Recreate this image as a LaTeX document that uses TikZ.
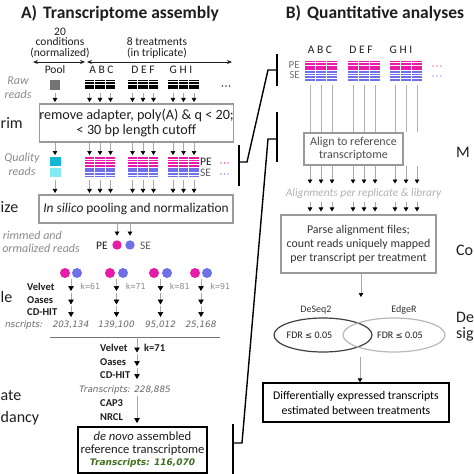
\documentclass[tikz,border=0pt]{standalone}
\usepackage{fontspec}
\setmainfont{Carlito}
\newfontfamily\monof{DejaVu Sans Mono}
\newfontfamily\djv{DejaVu Sans}
\usetikzlibrary{arrows.meta,shapes.geometric}
\definecolor{mag}{HTML}{E81BA8}
\definecolor{blu}{HTML}{6E70E8}
\definecolor{cyd}{HTML}{14B6D6}
\definecolor{cyl}{HTML}{84EAF2}
\definecolor{txt}{HTML}{1E1E1E}
\definecolor{gtx}{HTML}{8A8A8A}
\definecolor{ltx}{HTML}{B0B0B0}
\definecolor{ntx}{HTML}{666666}
\definecolor{grn}{HTML}{3F6F1F}
\definecolor{bord}{HTML}{9A9A9A}
\definecolor{stem}{HTML}{A8A8A8}
\begin{document}
\begin{tikzpicture}[x=1pt,y=-1pt,
  every node/.style={inner sep=0pt,text=txt},
  ttl/.style={font=\bfseries\fontsize{17.5}{20}\selectfont},
  side/.style={font=\fontsize{16}{18}\selectfont,anchor=west},
  hd/.style={font=\fontsize{11.5}{10.5}\selectfont},
  bx/.style={font=\fontsize{11.5}{15}\selectfont,align=center},
  gbox/.style={draw=bord,line width=1.1pt},
  kbox/.style={draw=black,line width=1.8pt},
  itl/.style={font=\itshape\fontsize{12}{14}\selectfont,text=gtx,align=center},
  tool/.style={font=\bfseries\fontsize{10.5}{11}\selectfont,anchor=west},
  kl/.style={font=\monof\fontsize{8.2}{10}\selectfont,text=gtx,anchor=west},
  num/.style={font=\djv\itshape\fontsize{8.8}{10}\selectfont,text=ntx},
  dn/.style={draw=stem,line width=0.7pt,-{Triangle[length=4pt,width=4.6pt,color=black]}},
  dnb/.style={draw=stem,line width=0.7pt,-{Triangle[length=5pt,width=5.5pt,color=black]}},
  harr/.style={draw=txt,line width=0.8pt,{Stealth[length=5pt,width=4pt]}-{Stealth[length=5pt,width=4pt]}},
  brk/.style={draw=black,line width=1.4pt},
  pics/stk/.style={code={\foreach \k in {0,1,2,3}{\fill[#1] (-4.6,\k*2.6) rectangle (4.6,\k*2.6+1.8);}}}
]
\useasboundingbox (0,0) rectangle (474,474);
\clip (0,0) rectangle (474,474);

% ---------- titles ----------
\node[ttl] (tA) at (120,13) {A)\hspace{6pt}Transcriptome assembly};
\node[ttl] (tB) at (375,13) {B)\hspace{6pt}Quantitative analyses};

% ---------- side labels ----------
\node[side] (sTrim) at (0.5,123) {rim};
\node[side] (sNorm) at (0.5,207) {ize};
\node[side] (sAss) at (0.5,297) {le};
\node[side] (sEl1) at (0.5,395) {ate};
\node[side] (sEl2) at (0.5,418) {dancy};
\node[side] (sMap) at (456,152) {M};
\node[side] (sCnt) at (456,250) {Co};
\node[side] (sDe1) at (456,317) {De};
\node[side] (sDe2) at (456,334.5) {sig};

% ---------- header of A ----------
\node[hd,align=center] (cond) at (60,43) {20\\conditions\\(normalized)};
\node[hd,align=center] (trt) at (157,48) {8 treatments\\(in triplicate)};
\coordinate (h1) at (33,62); \coordinate (h2) at (85,62);
\coordinate (h3) at (87,62); \coordinate (h4) at (232,62);
\draw[harr] (h1) -- (h2);
\draw[harr] (h3) -- (h4);
\node[hd] (pool) at (55,70) {Pool};
\node[hd] (gABC) at (101.5,70) {A B C};
\node[hd] (gDEF) at (143,70) {D E F};
\node[hd] (gGHI) at (181,70) {G H I};

\node[itl] (raw) at (18,87.5) {Raw\\reads};
\node[itl] (qual) at (22,164) {Quality\\reads};

% raw read stacks
\fill[black!55] (50,80) rectangle (60,90);
\foreach \x in {89.5,100,110.5,132.5,143,153.5,173,183.5,194}{
  \pic at (\x,79.5) {stk=black};
  \pic at (\x,157) {stk=mag};
  \pic at (\x,167.8) {stk=blu};
}
\foreach \d in {222.5,226,229.5}{
  \fill[black!75] (\d,86) circle (0.9);
  \fill[mag!70] (\d-1.5,163) circle (0.8);
  \fill[blu!70] (\d-1.5,174) circle (0.8);
}
\fill[cyd] (50,157) rectangle (61,166);
\fill[cyl] (50,168) rectangle (61,177);
\node[font=\fontsize{11.5}{13}\selectfont,anchor=west] (peA) at (200,162) {PE};
\node[font=\fontsize{11.5}{13}\selectfont,anchor=west,text=black!65] (seA) at (200,173) {SE};

% boxes of A
\node[gbox,bx,minimum width=193pt,minimum height=38pt,font=\fontsize{14.2}{15}\selectfont] (b1) at (136.5,123)
  {remove adapter, poly(A) \& q < 20;\\< 30 bp length cutoff};
\node[gbox,bx,minimum width=194pt,minimum height=28pt,font=\fontsize{13.4}{15}\selectfont] (b2) at (136,209)
  {\textit{In silico} pooling and normalization};

\foreach \x [count=\i] in {55,89.5,100,110.5,132.5,143,153.5,173,183.5,194}{
  \coordinate (ra\i) at (\x,92.5);
  \draw[dn,shorten >=1.5pt] (ra\i) -- (ra\i |- b1.north);
  \coordinate (qa\i) at (\x,155);
  \draw[dn] (qa\i |- b1.south) -- (qa\i);
  \coordinate (qb\i) at (\x,179.5);
  \draw[dn,shorten >=1.5pt] (qb\i) -- (qb\i |- b2.north);
}

% pooled reads
\node[circle,fill=mag,minimum size=9.4pt] (cpe) at (117,245) {};
\node[circle,fill=blu,minimum size=9.4pt] (cse) at (130,245) {};
\draw[dn] (cpe |- b2.south) -- ++(0,12);
\draw[dn] (cse |- b2.south) -- ++(0,12);
\node[font=\fontsize{11.5}{13}\selectfont,anchor=east] (peB) at (108,245.5) {PE};
\node[font=\fontsize{11.5}{13}\selectfont,anchor=west,text=black!65] (seB) at (140,245.5) {SE};
\node[itl,anchor=east] (tn1) at (62,235) {rimmed and};
\node[itl,anchor=east] (tn2) at (80,248) {ormalized reads};

% four assemblies
\foreach \a/\b/\m/\k/\n in {65/77/71/61/203{,}134,110/123/116.5/71/139{,}100,154/167/160.5/81/95{,}012,195/207/201/91/25{,}168}{
  \fill[mag] (\a,273) circle (5);
  \fill[blu] (\b,273) circle (5);
  \coordinate (m1) at (\m,279);
  \draw[dnb] (m1) -- ++(0,12);
  \draw[dnb] (\m,293) -- (\m,304.5);
  \draw[dnb] (\m,306) -- (\m,317);
  \node[kl] at (\m+9,286) {k=\k};
  \node[num] at (\m,325) {\n};
}
\node[tool] (v1) at (27,287) {Velvet};
\node[tool] (o1) at (27,300) {Oases};
\node[tool] (c1) at (27,312) {CD-HIT};
\node[num,anchor=east] (tr1) at (43,325) {nscripts:};

\coordinate (hl1) at (50,337); \coordinate (hl2) at (220,337);
\draw[draw=black!55,line width=0.9pt] (hl1) -- (hl2);

% merged assembly
\coordinate (mc) at (137,337);
\draw[dnb] (mc) -- ++(0,15.5);
\draw[dnb] (137,354) -- (137,366);
\draw[dnb] (137,368) -- (137,379);
\node[tool] (v2) at (100,348) {Velvet};
\node[tool] (k2) at (144,348) {k=71};
\node[tool] (o2) at (100,362) {Oases};
\node[tool] (c2) at (100,375) {CD-HIT};
\node[num] (tr2) at (125,390) {Transcripts: 228,885};
\node[tool] (cap) at (100,403) {CAP3};
\node[tool] (nrc) at (100,417) {NRCL};
\node[kbox,align=center,minimum width=129pt,minimum height=46pt,font=\fontsize{12.6}{12.5}\selectfont] (ref) at (142.5,450)
  {\textit{de novo} assembled\\reference transcriptome\\{\djv\bfseries\itshape\fontsize{9}{12.5}\selectfont\color{grn}Transcripts: 116,070}};
\draw[dnb,shorten >=3pt] (137,396) -- (ref.north -| 137,0);

% ---------- brackets ----------
\draw[brk] (239,145) -- (239,186);
\draw[brk] (239,162) -- (247,162) -- (268,70) -- (277,70);
\draw[brk] (277,54) -- (277,86);
\draw[brk] (233,424) -- (233,476);
\draw[brk] (233,443) -- (242,443) -- (268,139) -- (277,139);
\draw[brk] (277,112) -- (277,162);

% ---------- panel B ----------
\node[hd] (bABC) at (320,50) {A B C};
\node[hd] (bDEF) at (361,50) {D E F};
\node[hd] (bGHI) at (401,50) {G H I};
\node[font=\fontsize{11}{12}\selectfont,text=black!55,anchor=east] (peC) at (300,65) {PE};
\node[font=\fontsize{11}{12}\selectfont,text=black!55,anchor=east] (seC) at (300,75) {SE};
\foreach \x in {310,321,332,353,364,375,395,406,417}{
  \pic at (\x,60.5) {stk=mag};
  \pic at (\x,71) {stk=blu};
}
\foreach \d in {433,437,441}{
  \fill[mag!60] (\d,66) circle (0.8);
  \fill[blu!60] (\d,76) circle (0.8);
}
\node[gbox,bx,minimum width=99pt,minimum height=32pt,font=\fontsize{12}{13}\selectfont,text=black!70] (al) at (353.5,149)
  {Align to reference\\transcriptome};
\node[font=\itshape\fontsize{11.4}{13}\selectfont,text=ltx] (aln) at (363.5,194) {Alignments per replicate \& library};
\node[gbox,bx,minimum width=155pt,minimum height=58pt,font=\fontsize{11.9}{14}\selectfont,text=black!80] (pa) at (358.5,244)
  {Parse alignment files;\\count reads uniquely mapped\\per transcript per treatment};
\foreach \x [count=\i] in {310,321,332,353,364,375,395,406,417}{
  \coordinate (bt\i) at (\x,85);
  \draw[draw=ltx,line width=1pt] (bt\i) -- (bt\i |- al.north);
  \coordinate (bu\i) at (\x,183.5);
  \draw[dn] (bu\i |- al.south) -- (bu\i);
  \coordinate (bv\i) at (\x,201.5);
  \draw[dn,shorten >=3pt] (bv\i) -- (bv\i |- pa.north);
}
\node[font=\fontsize{10}{12}\selectfont,text=black!80] (ds) at (316,310) {DeSeq2};
\node[font=\fontsize{10}{12}\selectfont,text=black!80] (eg) at (404,310) {EdgeR};
\node[ellipse,draw=black!75,line width=1.2pt,minimum width=98pt,minimum height=34pt] (e1) at (323,335) {};
\node[ellipse,draw=black!28,line width=1.2pt,minimum width=102pt,minimum height=34pt] (e2) at (394,335) {};
\node[font=\fontsize{10}{12}\selectfont] (f1) at (309.5,335) {FDR {\djv\fontsize{8.5}{12}\selectfont ≤} 0.05};
\node[font=\fontsize{10}{12}\selectfont] (f2) at (400,335) {FDR {\djv\fontsize{8.5}{12}\selectfont ≤} 0.05};
\coordinate (pb) at (361,297);
\draw[dn] (pa.south -| pb) -- (pb);
\node[draw=black,line width=1.5pt,bx,minimum width=186pt,minimum height=39pt,font=\fontsize{11.8}{15}\selectfont,text=black] (df) at (356,402.5)
  {Differentially expressed transcripts\\estimated between treatments};
\coordinate (eb) at (360,357);
\draw[dn] (eb) -- (df.north -| eb);
\end{tikzpicture}
\end{document}
